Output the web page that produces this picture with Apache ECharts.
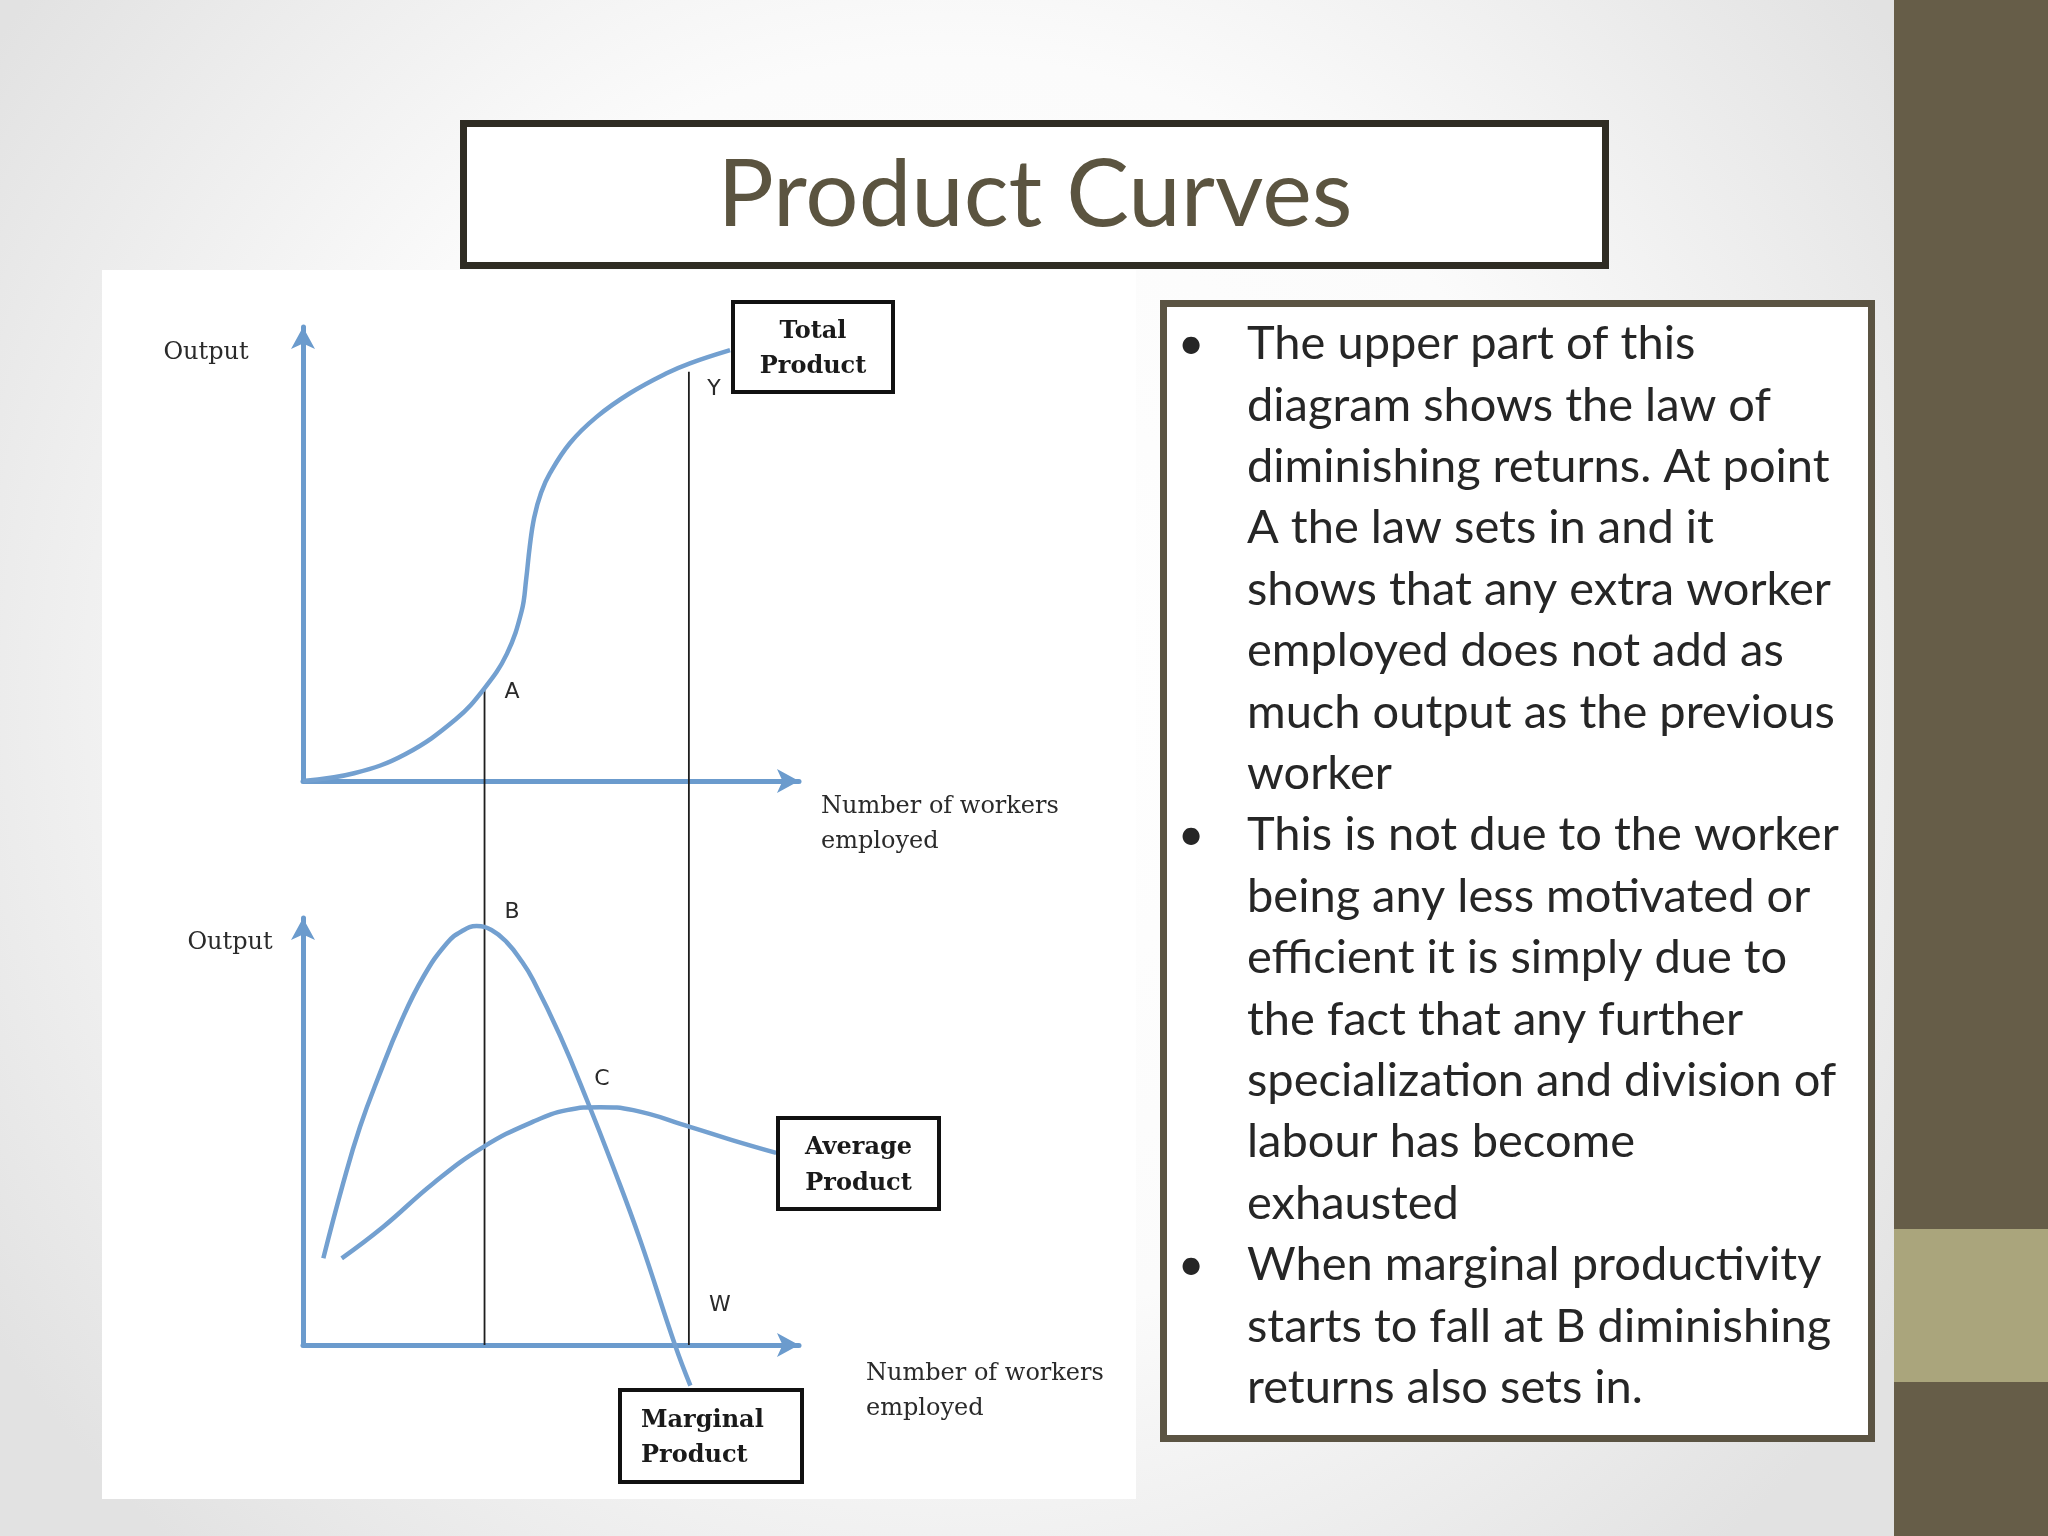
<!DOCTYPE html>
<html>
<head>
<meta charset="utf-8">
<script src="https://cdn.jsdelivr.net/npm/echarts@6/dist/echarts.min.js"></script>
<style>
html,body{margin:0;padding:0;background:#fff;}
#c{width:2048px;height:1536px;}
</style>
</head>
<body>
<div id="c"></div>
<script>
// ---- Data (x = workers, y = output, arbitrary 0-100 units) ----
const totalProduct = [[0,0],[10.3,1.7],[20.6,5.9],[30.8,13.6],[36.5,20.3],[41.1,28.0],[44.1,37.5],[45.0,44.5],[45.7,51.5],[46.6,58.0],[48.0,63.5],[49.8,67.8],[53.8,74.4],[59.2,80.2],[65.9,85.4],[73.3,89.8],[78.0,92.0],[86.1,94.9]];
const marginalProduct = [[4.1,20.3],[8.1,37.9],[11.5,51.1],[15.5,63.6],[19.6,75.3],[24.3,86.3],[29.0,94.1],[32.0,96.9],[35.0,98.1],[38.0,97.2],[41.1,94.3],[44.0,90.0],[46.4,85.5],[51.8,72.5],[57.2,57.5],[62.6,41.5],[68.0,24.5],[75.0,0],[78.1,-9.5]];
const averageProduct = [[7.8,20.3],[16.2,27.7],[26.3,37.9],[36.4,46.4],[46.4,52.3],[53.2,55.0],[59.9,55.7],[66.6,55.0],[78.0,51.1],[86.5,48.0],[95.4,45.0]];
const guideA = [[36.6,0],[36.6,64.4]];
const guideY = [[77.8,0],[77.8,95.6]];
const titleText = 'Product Curves';
const bulletLines = [
  ['•','The upper part of this'],
  ['','diagram shows the law of'],
  ['','diminishing returns. At point'],
  ['','A the law sets in and it'],
  ['','shows that any extra worker'],
  ['','employed does not add as'],
  ['','much output as the previous'],
  ['','worker'],
  ['•','This is not due to the worker'],
  ['','being any less motivated or'],
  ['','efficient it is simply due to'],
  ['','the fact that any further'],
  ['','specialization and division of'],
  ['','labour has become'],
  ['','exhausted'],
  ['•','When marginal productivity'],
  ['','starts to fall at B diminishing'],
  ['','returns also sets in.']
];

const AXIS = '#6b9bcd';
const CURVE = '#73a0d0';
const serif = '"DejaVu Serif", "Liberation Serif", serif';
const sans = '"DejaVu Sans", sans-serif';
const body = 'Lato, "Open Sans", sans-serif';

function arrowAxis(extra){
  return Object.assign({
    type:'value', min:0, max:100,
    axisLine:{show:true, onZero:true, symbol:['none','arrow'], symbolSize:[18,22], lineStyle:{color:AXIS, width:5}},
    axisTick:{show:false}, axisLabel:{show:false}, splitLine:{show:false}
  }, extra||{});
}
const hidden = {type:'value', min:0, max:100, show:false, splitLine:{show:false}};

const g = [];
// slide background
g.push({type:'rect', z:-100, shape:{x:0,y:0,width:1894,height:1536},
  style:{fill:{type:'radial', x:0.5, y:0.45, r:0.75, colorStops:[{offset:0,color:'#ffffff'},{offset:0.55,color:'#fbfbfb'},{offset:1,color:'#e2e2e2'}]}}});
g.push({type:'rect', z:-100, shape:{x:1894,y:0,width:154,height:1536}, style:{fill:'#665d48'}});
g.push({type:'rect', z:-99, shape:{x:1894,y:1229,width:154,height:153}, style:{fill:'#aaa57c'}});
// white chart panel
g.push({type:'rect', z:-90, shape:{x:102,y:270,width:1034,height:1229}, style:{fill:'#ffffff'}});
// title box
g.push({type:'rect', z:10, shape:{x:463.5,y:123.5,width:1142,height:142}, style:{fill:'#ffffff', stroke:'#2f2c23', lineWidth:7}});
g.push({type:'text', z:11, style:{text:titleText, x:1035, y:196, font:'94px '+body, fill:'#5b5440', textAlign:'center', verticalAlign:'middle'}});
// text box
g.push({type:'rect', z:10, shape:{x:1163.5,y:303.5,width:708,height:1135}, style:{fill:'#ffffff', stroke:'#5b5443', lineWidth:7}});
bulletLines.forEach(function(l,i){
  const y = 344 + i*61.4;
  if(l[0]) g.push({type:'text', z:11, style:{text:l[0], x:1191, y:y, font:'46px '+body, fill:'#262626', textAlign:'center', verticalAlign:'middle'}});
  g.push({type:'text', z:11, style:{text:l[1], x:1247, y:y, font:'47px '+body, fill:'#262626', textAlign:'left', verticalAlign:'middle'}});
});
// axis labels
function t(text,x,y,font,align){ g.push({type:'text', z:20, style:{text:text, x:x, y:y, font:font, fill:'#2a2a2a', textAlign:align||'center', verticalAlign:'middle'}}); }
t('Output',206,353,'24px '+serif);
t('Output',230,943,'24px '+serif);
t('Number of workers',821,807,'24px '+serif,'left');
t('employed',821,842,'24px '+serif,'left');
t('Number of workers',866,1374,'24px '+serif,'left');
t('employed',866,1409,'24px '+serif,'left');
t('A',512,692,'22px '+sans);
t('Y',714,389,'22px '+sans);
t('B',512,912,'22px '+sans);
t('C',602,1079,'22px '+sans);
t('W',720,1305,'22px '+sans);
// curve name boxes
function box(x,y,w,h,l1,l2,align,tx){
  g.push({type:'rect', z:30, shape:{x:x,y:y,width:w,height:h}, style:{fill:'#ffffff', stroke:'#111111', lineWidth:4}});
  const cx = align==='left' ? tx : x+w/2;
  g.push({type:'text', z:31, style:{text:l1, x:cx, y:y+h*0.33, font:'bold 24px '+serif, fill:'#1a1a1a', textAlign:align||'center', verticalAlign:'middle'}});
  g.push({type:'text', z:31, style:{text:l2, x:cx, y:y+h*0.72, font:'bold 24px '+serif, fill:'#1a1a1a', textAlign:align||'center', verticalAlign:'middle'}});
}
box(733,302,160,90,'Total','Product');
box(778,1118,161,91,'Average','Product');
box(620,1390,182,92,'Marginal','Product','left',641);

const chart = echarts.init(document.getElementById('c'), null, {renderer:'canvas'});
chart.setOption({
  animation:false,
  backgroundColor:'#ffffff',
  grid:[
    {left:303, top:327, width:496, height:454},
    {left:303, top:918, width:496, height:427},
    {left:303, top:327, width:496, height:1018}
  ],
  xAxis:[arrowAxis({gridIndex:0}), arrowAxis({gridIndex:1}), Object.assign({gridIndex:2}, hidden)],
  yAxis:[arrowAxis({gridIndex:0}), arrowAxis({gridIndex:1}), Object.assign({gridIndex:2}, hidden)],
  graphic:g,
  series:[
    {type:'line', xAxisIndex:2, yAxisIndex:2, data:guideA, showSymbol:false, lineStyle:{color:'#1e1e1e', width:1.8}, z:1},
    {type:'line', xAxisIndex:2, yAxisIndex:2, data:guideY, showSymbol:false, lineStyle:{color:'#1e1e1e', width:1.8}, z:1},
    {type:'line', xAxisIndex:0, yAxisIndex:0, data:totalProduct, smooth:0.4, showSymbol:false, lineStyle:{color:CURVE, width:4.5}, z:3},
    {type:'line', xAxisIndex:1, yAxisIndex:1, data:marginalProduct, smooth:0.45, clip:false, showSymbol:false, lineStyle:{color:CURVE, width:4.5}, z:3},
    {type:'line', xAxisIndex:1, yAxisIndex:1, data:averageProduct, smooth:0.45, showSymbol:false, lineStyle:{color:CURVE, width:4.5}, z:3}
  ]
});
</script>
</body>
</html>
